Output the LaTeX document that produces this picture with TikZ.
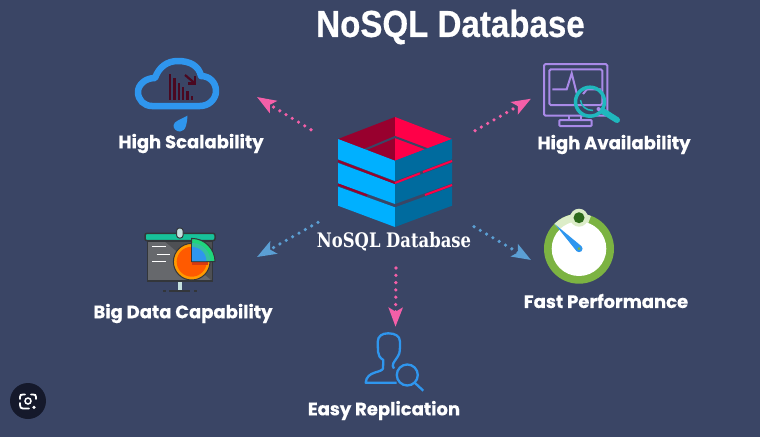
\documentclass[tikz,border=0pt]{standalone}
\usepackage{fontspec}
\usetikzlibrary{arrows.meta}
\setmainfont{Poppins}
\newfontfamily\popbold{Poppins}[UprightFont=* Bold,FakeBold=0.35]
\newfontfamily\titlefont{Liberation Sans}[FakeStretch=0.88,FakeBold=0.5]
\newfontfamily\slabfont{DejaVu Serif}[FakeStretch=0.82]
\definecolor{bgc}{HTML}{3A4565}
\definecolor{pinkc}{HTML}{F45FA8}
\definecolor{bluec}{HTML}{5B9FD4}
\definecolor{iconb}{HTML}{2F96EE}
\definecolor{dred}{HTML}{98002E}
\definecolor{bred}{HTML}{FF0048}
\definecolor{lcy}{HTML}{00B0FF}
\definecolor{dcy}{HTML}{006B9E}
\definecolor{barc}{HTML}{4A0820}
\definecolor{purp}{HTML}{A98AE8}
\definecolor{tealc}{HTML}{1FB8BD}
\definecolor{dgrey}{HTML}{33363A}
\definecolor{boardl}{HTML}{66686C}
\definecolor{boardd}{HTML}{4E5054}
\definecolor{bartop}{HTML}{17C29A}
\definecolor{pale}{HTML}{C5E0DE}
\definecolor{pieo}{HTML}{FF9A00}
\definecolor{pier}{HTML}{FF5A00}
\definecolor{pieshadow}{HTML}{D83A10}
\definecolor{sliceo}{HTML}{1FD67C}
\definecolor{slicem}{HTML}{35C0A0}
\definecolor{gaugeg}{HTML}{7CB342}
\definecolor{gaugel}{HTML}{DCEDC8}
\definecolor{gaugek}{HTML}{2D6A1A}
\definecolor{badgec}{HTML}{15192B}
\tikzset{
  lab/.style={text=white,font=\popbold\fontsize{18}{20}\selectfont,inner sep=0pt},
  flow/.style={line width=3.6pt,line cap=round,dash pattern=on 0pt off 7.3pt},
  pinkflow/.style={flow,draw=pinkc,-{Stealth[length=19pt,width=14pt,inset=4pt,color=pinkc]}},
  blueflow/.style={flow,draw=bluec,-{Stealth[length=19pt,width=14pt,inset=4pt,color=bluec]}},
}
\begin{document}
\begin{tikzpicture}[x=1pt,y=-1pt]
\useasboundingbox (0,0) rectangle (760,437);
\fill[bgc] (0,0) rectangle (760,437);
% title
\node[text=white,font=\titlefont\bfseries\fontsize{37.6}{40}\selectfont,inner sep=0pt] (title) at (450.5,27) {NoSQL Database};
% cube
\fill[dred] (338,139) -- (395,117) -- (395,161) -- cycle;
\fill[bred] (452,139) -- (395,117) -- (395,161) -- cycle;
\draw[bgc,line width=2pt] (364,150) -- (395,137) -- (427,149);
\fill[lcy] (338,139) -- (395,160.7) -- (395,181) -- (338,159.3) -- cycle;
\fill[dcy] (452,139) -- (395,160.7) -- (395,181) -- (452,159.3) -- cycle;
\fill[lcy] (338,163) -- (395,184) -- (395,204) -- (338,183.3) -- cycle;
\fill[dcy] (452,163) -- (395,184) -- (395,204) -- (452,183.3) -- cycle;
\fill[lcy] (338,186.7) -- (395,207.3) -- (395,227) -- (338,205.7) -- cycle;
\fill[dcy] (452,186.7) -- (395,207.3) -- (395,227) -- (452,205.7) -- cycle;
\draw[dred,line width=2pt] (338,161) -- (395,183);
\draw[bred,line width=2pt] (395,183) -- (420,173.3);
\draw[bred,line width=2pt] (423,172) -- (452,161);
\draw[dred,line width=2pt] (338,184.5) -- (367,195.5);
\draw[bred,line width=2pt] (425,195) -- (452,185);
% centre label
\node[text=white,font=\slabfont\bfseries\fontsize{20}{22}\selectfont,inner sep=0pt] (centre) at (394,242) {NoSQL Database};
% cloud
\draw[iconb,line width=6.5pt,line join=round] (152,106) -- (200,106) .. controls (209,106) and (216,99) .. (216,91) .. controls (216,82) and (209,76) .. (201,76) .. controls (199,66) and (190,61) .. (178,61) .. controls (167,61) and (159,67) .. (155,78) .. controls (145,78) and (138,85) .. (138,92) .. controls (138,100) and (144,106) .. (152,106) -- cycle;
\foreach \xx/\yy in {170/74,174.3/78.3,178.7/82.7,183/86.7,187.3/91,191.7/96}
  \fill[barc] (\xx-1.2,\yy) rectangle (\xx+1.2,100);
\draw[barc,line width=2.2pt] (185,75) -- (194.5,83);
\draw[barc,line width=2.2pt] (195,76) -- (195,83.5) -- (187.5,83.5);
\fill[iconb] (187.3,115.7) .. controls (187.5,122) and (186,131.5) .. (180,131.5) .. controls (176,131.5) and (173.5,128.5) .. (173.5,125.5) .. controls (173.5,121) and (182,119) .. (187.3,115.7) -- cycle;
\node[lab] (hs) at (191,143.5) {High Scalability};
% monitor
\draw[purp,line width=2pt,rounded corners=1.5pt] (544,64) rectangle (607.3,115.7);
\draw[purp,line width=2pt,rounded corners=1.5pt] (549.3,69.3) rectangle (602.3,105);
\draw[purp,line width=2pt] (569,116) -- (569,120) (581,116) -- (581,120);
\draw[purp,line width=2pt,rounded corners=1pt] (559.3,120) rectangle (591.7,126);
\draw[purp,line width=2pt] (552.3,89.3) -- (566.7,89.3) -- (571.7,73.3) -- (576.7,93.3);
\draw[purp,line width=2pt] (583,94) -- (587,89.3) -- (601,89.3);
\draw[tealc,line width=3.5pt] (590,101.7) circle (14.5);
\draw[tealc,line width=1.5pt] (580.5,100) .. controls (581,106) and (586,110.5) .. (593,110.5);
\draw[tealc,line width=6pt,line cap=round] (602,110.5) -- (617,120);
\fill[purp] (598.5,109) circle (2);
\node[lab] (ha) at (614,144.5) {High Availability};
% presentation
\fill[boardl] (147.7,241.7) rectangle (212.3,281);
\fill[boardd] (165,241.7) -- (212.3,241.7) -- (212.3,281) -- cycle;
\draw[dgrey,line width=1.5pt] (147.7,241.7) rectangle (212.3,281);
\filldraw[fill=bartop,draw=dgrey,line width=1.5pt,rounded corners=2pt] (145,233.3) rectangle (215,240.7);
\filldraw[fill=pale,draw=dgrey,line width=1pt,rounded corners=2.5pt] (176.7,228) rectangle (183,238);
\draw[white,line width=1pt] (152.3,246.7) -- (166,246.7) (156.7,254) -- (170,254) (152.3,261) -- (166,261);
\fill[pale] (178.3,282) rectangle (181.7,291);
\draw[dgrey,line width=1.2pt] (163.3,291) -- (166,291) (169.3,291) -- (190,291) (194,291) -- (196.7,291);
\filldraw[fill=pieo,draw=dgrey,line width=1pt] (191.7,261.7) circle (18.3);
\fill[pier] (191.7,261.7) circle (15);
\fill[pieshadow] (191.7,261.7) rectangle (208,265);
\filldraw[fill=sliceo,draw=dgrey,line width=1pt] (191.7,261.7) -- (191.7,238.4) arc (-90:0:23.3) -- cycle;
\fill[slicem] (192.2,261.2) -- (192.2,243) arc (-90:0:18.2) -- cycle;
\fill[iconb] (192.2,261.2) -- (192.2,247) arc (-90:0:14.2) -- cycle;
\node[lab] (bd) at (183,313.5) {Big Data Capability};
% gauge
\fill[gaugeg] (579,248.7) circle (35);
\begin{scope}
\clip (579,248.7) circle (35);
\fill[gaugel] (579,248.7) -- (554.25,223.95) arc (-135:-70:35) -- cycle;
\fill[gaugel] (579,217.7) circle (9);
\end{scope}
\fill[white] (579,248.7) circle (27.3);
\fill[gaugel] (579,217.7) circle (9);
\fill[gaugek] (579,217.7) circle (5.5);
\fill[iconb] (555,224.3) -- (581.5,246.2) arc (-45:135:3.5) -- cycle;
\fill[gaugeg] (579,248.7) circle (1.5);
\node[lab] (fp) at (606,301) {Fast Performance};
% person
\draw[iconb,line width=2.3pt,line join=round] (396.7,382.7) -- (365.7,382.7) .. controls (366,377) and (370,374) .. (375,372.5) .. controls (380,371) and (383,370) .. (383,368.3) -- (383.3,360) .. controls (380,358) and (378,355) .. (378,351.7) -- (377.7,341.7) .. controls (378,336) and (382,333.3) .. (388.3,333.3) .. controls (395,333.3) and (400,336) .. (400,341.7) .. controls (400,346) and (400,350) .. (399.3,353.3) .. controls (398,357) and (395,360) .. (393.3,363.3) .. controls (392,365) and (393,367) .. (394,368.5);
\draw[iconb,line width=2.3pt] (407.3,375) circle (10.5);
\draw[iconb,line width=2.3pt] (415,383) -- (423.3,390.7);
\node[lab] (er) at (384,410.5) {Easy Replication};
% connectors
\coordinate (c1) at (311,129.7); \coordinate (t1) at (257,97);
\coordinate (c2) at (475,130.7); \coordinate (t2) at (531,98.7);
\coordinate (c3) at (318,222.3); \coordinate (t3) at (257,257);
\coordinate (c4) at (474,226.7); \coordinate (t4) at (531,260);
\coordinate (c5) at (396,268);   \coordinate (t5) at (395.5,326.7);
\draw[pinkflow] (c1) -- (t1);
\draw[pinkflow] (c2) -- (t2);
\draw[blueflow] (c3) -- (t3);
\draw[blueflow] (c4) -- (t4);
\draw[pinkflow] (c5) -- (t5);
% lens badge
\node[circle,fill=badgec,minimum size=36pt,inner sep=0pt] (badge) at (28,401) {};
\draw[white,line width=1.8pt,line cap=round] (20,399) -- (20,397) .. controls (20,395) and (21,394.5) .. (23,394.5) -- (25,394.5)
  (31,394.5) -- (33,394.5) .. controls (35,394.5) and (36,395) .. (36,397) -- (36,399)
  (20,403) -- (20,405) .. controls (20,407.5) and (21,408.5) .. (23,408.5) -- (29,408.5);
\draw[white,line width=1.5pt] (28,401) circle (3);
\fill[white] (34,407.3) circle (1.8);
\end{tikzpicture}
\end{document}
